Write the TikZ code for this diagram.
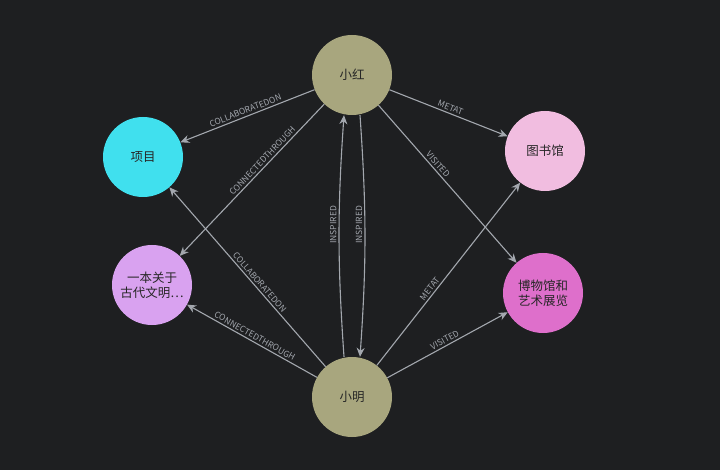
\documentclass[tikz,border=0pt]{standalone}
\usepackage{fontspec}
\setmainfont{Noto Sans CJK SC}
\usetikzlibrary{arrows.meta}
\definecolor{bg}{HTML}{1E1F21}
\definecolor{edgec}{HTML}{A3A7AE}
\definecolor{olive}{HTML}{A8A67E}
\definecolor{cyanc}{HTML}{40E0EE}
\definecolor{pinkc}{HTML}{F1BDE0}
\definecolor{lavc}{HTML}{D9A2F0}
\definecolor{magc}{HTML}{DE6FCB}
\begin{document}
\begin{tikzpicture}[x=1pt,y=-1pt,
  ent/.style={circle,minimum size=80pt,inner sep=0pt,font=\fontsize{12.5}{15}\selectfont,text=black!85,align=center},
  rel/.style={draw=edgec,line width=1.1pt,-{Stealth[length=9pt,width=8pt]}},
  lab/.style={font=\fontsize{8.5}{10}\selectfont,text=edgec,sloped,above,inner sep=2pt}]
\fill[bg] (0,0) rectangle (720,470);
\path[use as bounding box] (0,0) rectangle (720,470);
\node[ent,fill=olive] (xh) at (352,75) {小红};
\node[ent,fill=olive] (xm) at (352,397) {小明};
\node[ent,fill=cyanc] (xm1) at (143,157) {项目};
\node[ent,fill=pinkc] (tsg) at (545,151) {图书馆};
\node[ent,fill=lavc] (book) at (152,285) {一本关于\\古代文明…};
\node[ent,fill=magc] (mus) at (543,293) {博物馆和\\艺术展览};
\draw[rel] (xh) -- node[lab]{COLLABORATEDON} (xm1);
\draw[rel] (xh) -- node[lab,pos=0.4]{CONNECTEDTHROUGH} (book);
\draw[rel] (xh) -- node[lab]{METAT} (tsg);
\draw[rel] (xh) -- node[lab,pos=0.4]{VISITED} (mus);
\draw[rel] ([xshift=8pt]xh.south) to[bend left=4] node[pos=0.45,left,inner sep=2pt,font=\fontsize{8.5}{10}\selectfont,text=edgec]{\rotatebox{90}{INSPIRED}} ([xshift=8pt]xm.north);
\draw[rel] ([xshift=-8pt]xm.north) to[bend left=4] node[pos=0.55,left,inner sep=2pt,font=\fontsize{8.5}{10}\selectfont,text=edgec]{\rotatebox{90}{INSPIRED}} ([xshift=-8pt]xh.south);
\draw[rel] (xm) -- node[lab,pos=0.45]{COLLABORATEDON} (xm1);
\draw[rel] (xm) -- node[lab]{CONNECTEDTHROUGH} (book);
\draw[rel] (xm) -- node[lab,pos=0.4]{METAT} (tsg);
\draw[rel] (xm) -- node[lab]{VISITED} (mus);
\end{tikzpicture}
\end{document}
